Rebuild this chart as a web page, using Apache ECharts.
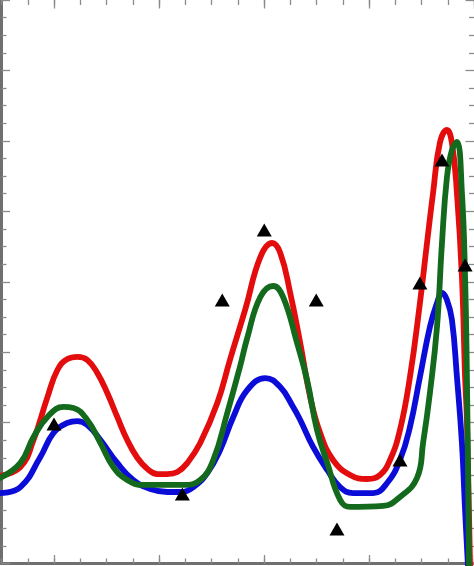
<!DOCTYPE html>
<html><head><meta charset="utf-8">
<script src="https://cdn.jsdelivr.net/npm/echarts@6/dist/echarts.min.js"></script>
<style>html,body{margin:0;padding:0;background:#fff}#c{width:474px;height:566px}</style>
</head><body><div id="c"></div>
<script>
// x in minor-tick units (major every 4), y in minor-tick units (major every 4)
const redPts = [[-2.05,4.97],[-1.28,5.48],[-0.78,7.01],[-0.25,9.45],[0.13,10.99],[0.51,11.61],[0.89,11.73],[1.27,11.56],[1.65,10.82],[2.03,9.68],[2.41,8.32],[2.79,7.01],[3.18,5.99],[3.56,5.37],[3.94,5.08],[4.32,5.08],[4.70,5.20],[5.08,5.71],[5.57,6.84],[6.22,9.11],[6.71,11.6],[7.30,14.5],[7.86,17.40],[8.31,18.20],[8.62,17.63],[9.00,15.36],[9.38,12.52],[9.76,9.45],[10.14,7.41],[10.63,5.88],[11.28,5.03],[11.93,4.80],[12.42,5.03],[12.80,5.88],[13.18,7.58],[13.56,10.59],[13.94,14.79],[14.21,18.20],[14.44,21.04],[14.70,23.88],[14.97,24.62],[15.16,23.88],[15.35,21.04],[15.54,16.27],[15.66,10.59],[15.73,8.15],[15.85,-0.14]];
const bluePts = [[-2.05,4.00],[-1.28,4.34],[-0.52,6.05],[-0.02,7.41],[0.51,7.98],[0.89,8.09],[1.27,7.86],[1.77,7.01],[2.41,5.71],[3.02,4.74],[3.67,4.23],[4.32,4.06],[4.81,4.06],[5.31,4.34],[5.84,5.14],[6.33,6.45],[6.83,8.32],[7.36,9.85],[8.05,10.53],[8.62,10.02],[9.11,8.89],[9.38,8.15],[9.87,6.62],[10.41,5.31],[10.90,4.34],[11.39,4.00],[12.16,4.00],[12.69,4.57],[13.18,5.88],[13.56,7.75],[13.94,10.59],[14.32,13.43],[14.59,14.79],[14.78,15.36],[14.97,14.96],[15.16,13.83],[15.35,10.59],[15.54,6.84],[15.66,3.04],[15.77,-0.14]];
const greenPts = [[-2.05,4.86],[-1.28,5.71],[-0.78,7.18],[-0.25,8.32],[0.36,8.89],[0.74,8.83],[1.27,8.15],[1.77,6.84],[2.26,5.48],[2.79,4.74],[3.40,4.46],[4.32,4.46],[4.93,4.46],[5.57,4.74],[6.07,5.88],[6.60,8.55],[7.09,11.2],[7.36,12.8],[7.86,15.13],[8.35,15.76],[8.73,15.13],[9.26,12.52],[9.64,10.42],[10.02,7.58],[10.41,5.71],[10.90,3.61],[11.28,3.21],[12.54,3.27],[13.18,3.78],[13.83,4.86],[14.06,6.84],[14.32,9.68],[14.59,13.43],[14.78,18.20],[14.97,21.95],[15.16,23.48],[15.35,23.94],[15.54,21.04],[15.66,16.27],[15.73,10.59],[15.81,-0.14]];
const trianglePts = [[0.00,7.92],[4.89,3.95],[6.41,14.96],[8.01,18.94],[9.99,14.96],[10.78,1.96],[13.18,5.88],[13.94,15.93],[14.78,22.91],[15.66,16.95]];
const xMajorTicks = [0,4,8,12,16];

const tickColor = '#8a8a8a';
const lineColor = '#6f6f6f';
function xAx(pos, major, showLine) {
  return {
    type: 'value', position: pos, min: -2, max: 16, interval: 1,
    axisLine: {show: showLine, onZero: false, lineStyle: {color: lineColor, width: 3}},
    axisTick: major ? {show: true, inside: true, length: 8.5, customValues: xMajorTicks, lineStyle: {color: tickColor, width: 1.3}}
                    : {show: true, inside: true, length: 5, lineStyle: {color: tickColor, width: 1.3}},
    axisLabel: {show: false}, splitLine: {show: false}
  };
}
function yAx(pos, showLine) {
  return {
    type: 'value', position: pos, min: 0, max: 32, interval: 4,
    axisLine: {show: showLine, onZero: false, lineStyle: {color: lineColor, width: 3}},
    axisTick: {show: true, inside: true, length: 8.5, lineStyle: {color: tickColor, width: 1.3}},
    minorTick: {show: true, splitNumber: 4, length: 5, lineStyle: {color: tickColor, width: 1.3}},
    axisLabel: {show: false}, splitLine: {show: false}, minorSplitLine: {show: false}
  };
}
const lw = 5.8;
function lineSeries(pts, color, z) {
  return {type: 'line', data: pts, smooth: 0.45, showSymbol: false, symbol: 'none', clip: true, z: z,
    lineStyle: {color: color, width: lw, cap: 'round', join: 'round'}, itemStyle: {color: color}};
}
const chart = echarts.init(document.getElementById('c'), null, {renderer: 'canvas'});
chart.setOption({
  animation: false,
  backgroundColor: '#ffffff',
  grid: {left: 1.5, right: 0, top: 0, bottom: 2.5, containLabel: false},
  xAxis: [xAx('bottom', false, true), xAx('bottom', true, false), xAx('top', false, false), xAx('top', true, false)],
  yAxis: [yAx('left', true), yAx('right', false)],
  series: [
    lineSeries(redPts, '#e30d0d', 2),
    lineSeries(bluePts, '#0c0cd8', 3),
    lineSeries(greenPts, '#146a1c', 4),
    {type: 'scatter', data: trianglePts, symbol: 'triangle', symbolSize: [15, 13], z: 5,
     itemStyle: {color: '#000000', opacity: 1}}
  ]
});
</script></body></html>
